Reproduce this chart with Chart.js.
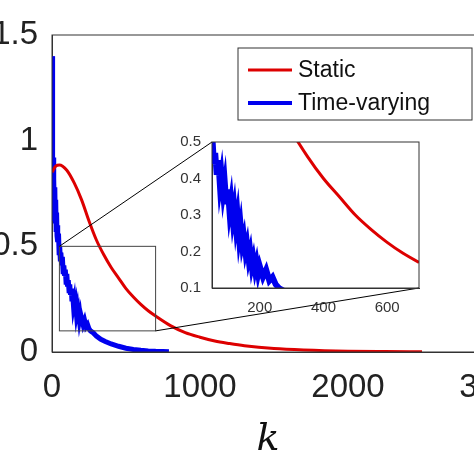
<!DOCTYPE html>
<html><head><meta charset="utf-8">
<script src="https://cdn.jsdelivr.net/npm/chart.js@4"></script>
<style>html,body{margin:0;padding:0;overflow:hidden;background:#fff;width:474px;height:474px;position:relative}
#m{position:absolute;left:-20px;top:0}#i{position:absolute;left:170px;top:135px}</style>
</head><body>
<canvas id="m" width="540" height="474" style="width:540px;height:474px"></canvas>
<canvas id="i" width="255" height="180" style="width:255px;height:180px"></canvas>
<script>
const staticK=[0,25,50,100,150,200,250,300,350,400,450,500,550,600,650,700,800,900,1000,1100,1200,1300,1500,1700,2000,2250,2500];
const staticV=[0.85,0.88,0.885,0.86,0.8,0.72,0.62,0.53,0.46,0.40,0.35,0.30,0.26,0.225,0.195,0.17,0.125,0.092,0.07,0.052,0.04,0.03,0.017,0.01,0.004,0.002,0.001];
const tvK=[0,2,4,6,8,10,13,16,19,22,25,28,31,34,37,40,44,48,52,56,60,65,70,75,80,85,90,95,100,105,110,115,120,125,130,135,140,145,150,155,160,165,170,175,180,185,190,195,200,210,220,230,240,250,260,280,300,330,360,400,450,500,550,600,650,700,750,790];
const tvV=[1.4,0.65,1.05,0.68,0.92,0.62,0.82,0.66,0.78,0.62,0.72,0.58,0.66,0.55,0.6,0.52,0.56,0.47,0.5,0.44,0.47,0.41,0.45,0.38,0.41,0.36,0.39,0.33,0.37,0.31,0.34,0.29,0.32,0.27,0.3,0.24,0.27,0.22,0.24,0.2,0.22,0.18,0.2,0.16,0.18,0.15,0.17,0.14,0.16,0.13,0.15,0.12,0.13,0.11,0.1,0.09,0.075,0.06,0.05,0.038,0.027,0.018,0.012,0.008,0.005,0.003,0.002,0.001];
const mainYTicks=[0,0.5,1,1.5];
const mainXTicks=[0,1000,2000,3000];
const insetXTicks=[200,400,600];
const insetYTicks=[0.1,0.2,0.3,0.4,0.5];
const pts=(k,v)=>k.map((x,j)=>({x:x,y:v[j]}));
const ds=(w)=>[
 {label:'Static',data:pts(staticK,staticV),borderColor:'#dd0000',borderWidth:3,pointRadius:0,cubicInterpolationMode:'monotone'},
 {label:'Time-varying',data:pts(tvK,tvV),borderColor:'#0000ee',borderWidth:w,pointRadius:0,tension:0}];
const mainPlug={id:'mp',afterDraw(c){const x=c.ctx,a=c.chartArea,sx=c.scales.x,sy=c.scales.y;
 x.save();x.strokeStyle='#333';x.lineWidth=1;x.strokeRect(a.left,a.top,a.right-a.left,a.bottom-a.top);
 const x0=sx.getPixelForValue(50),x1=sx.getPixelForValue(700),y0=sy.getPixelForValue(0.5),y1=sy.getPixelForValue(0.1);
 x.strokeStyle='#444';x.strokeRect(x0,y0,x1-x0,y1-y0);
 x.strokeStyle='#000';x.beginPath();x.moveTo(x0,y0);x.lineTo(232,142);x.moveTo(x1,y1);x.lineTo(439,288);x.stroke();
 x.fillStyle='#fff';x.fillRect(258,48,236,72);x.strokeStyle='#333';x.strokeRect(258,48,234,72);
 x.lineWidth=3;x.strokeStyle='#dd0000';x.beginPath();x.moveTo(268,70);x.lineTo(312,70);x.stroke();
 x.lineWidth=4;x.strokeStyle='#0000ee';x.beginPath();x.moveTo(268,103);x.lineTo(312,103);x.stroke();
 x.fillStyle='#111';x.font='23px Arial, "Liberation Sans"';x.textBaseline='middle';
 x.fillText('Static',318,71);x.fillText('Time-varying',318,104);
 x.font='italic 38px "DejaVu Serif", "Liberation Serif", serif';x.textAlign='center';x.fillText('k',288,440);
 x.restore();}};
new Chart(document.getElementById('m'),{type:'line',data:{datasets:ds(5)},plugins:[mainPlug],
 options:{responsive:false,animation:false,layout:{padding:{top:35,right:24}},
 plugins:{legend:{display:false},tooltip:{enabled:false}},
 scales:{x:{type:'linear',min:0,max:3000,afterBuildTicks:s=>{s.ticks=mainXTicks.map(v=>({value:v}))},
   grid:{display:false},border:{color:'#333'},afterFit:s=>{s.height=122;s.paddingRight=0;s.paddingLeft=0},
   ticks:{color:'#222',font:{size:33,family:'Arial, "Liberation Sans"'},padding:8,maxRotation:0,callback:v=>String(v)}},
  y:{min:0,max:1.5,afterBuildTicks:s=>{s.ticks=mainYTicks.map(v=>({value:v}))},
   grid:{display:false},border:{color:'#333'},afterFit:s=>{s.width=72;s.paddingTop=0},
   ticks:{color:'#222',font:{size:33,family:'Arial, "Liberation Sans"'},padding:6,callback:v=>String(v)}}}}});
const insetPlug={id:'ip',afterDraw(c){const x=c.ctx,a=c.chartArea;x.save();x.strokeStyle='#333';x.lineWidth=1;
 x.strokeRect(a.left,a.top,a.right-a.left,a.bottom-a.top);x.restore();}};
new Chart(document.getElementById('i'),{type:'line',data:{datasets:ds(6)},plugins:[insetPlug],
 options:{responsive:false,animation:false,layout:{padding:{top:7,right:6}},
 plugins:{legend:{display:false},tooltip:{enabled:false}},
 scales:{x:{type:'linear',min:50,max:700,afterBuildTicks:s=>{s.ticks=insetXTicks.map(v=>({value:v}))},
   grid:{display:false},border:{color:'#333'},afterFit:s=>{s.height=27;s.paddingRight=0;s.paddingLeft=0},
   ticks:{color:'#333',font:{size:15,family:'Arial, "Liberation Sans"'},padding:3,maxRotation:0}},
  y:{min:0.1,max:0.5,afterBuildTicks:s=>{s.ticks=insetYTicks.map(v=>({value:v}))},
   grid:{display:false},border:{color:'#333'},afterFit:s=>{s.width=42;s.paddingTop=0;s.paddingBottom=0},
   ticks:{color:'#333',font:{size:15,family:'Arial, "Liberation Sans"'},padding:3,callback:v=>v.toFixed(1)}}}}});
</script></body></html>
